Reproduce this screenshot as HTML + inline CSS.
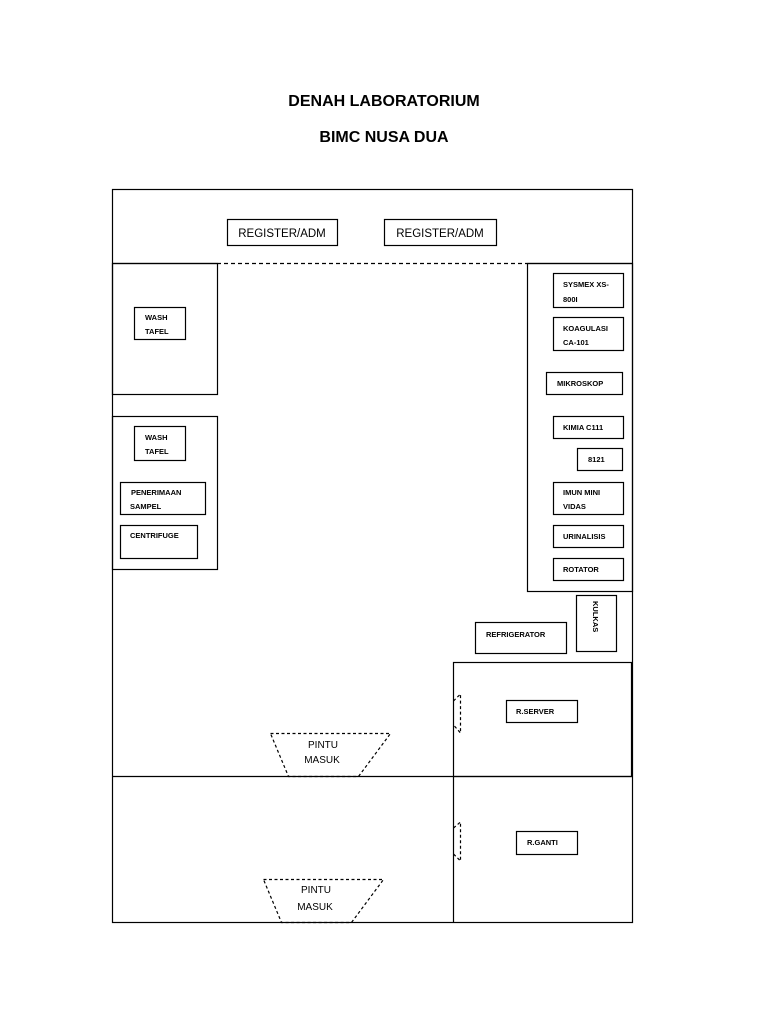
<!DOCTYPE html>
<html><head><meta charset="utf-8"><style>
body{margin:0;background:#fff}
svg{display:block}
text{font-family:"Liberation Sans",sans-serif;fill:#000}
.s{font-size:7.5px;font-weight:bold}
.m{font-size:11.5px}
</style></head><body>
<svg width="768" height="1024" viewBox="0 0 768 1024" xmlns="http://www.w3.org/2000/svg">
<g fill="none" stroke="#000" stroke-width="1.2">
<rect x="112.5" y="189.5" width="520" height="733"/>
<line x1="112" y1="263.5" x2="217" y2="263.5"/>
<line x1="217" y1="263.5" x2="527" y2="263.5" stroke-dasharray="4,3"/>
<line x1="527" y1="263.5" x2="632" y2="263.5"/>
<rect x="112.5" y="263.5" width="105" height="131"/>
<rect x="112.5" y="416.5" width="105" height="153"/>
<rect x="527.5" y="263.5" width="105" height="328"/>
<rect x="453.5" y="662.5" width="178" height="114"/>
<line x1="112" y1="776.5" x2="632" y2="776.5"/>
<line x1="453.5" y1="776" x2="453.5" y2="922"/>
<rect x="227.5" y="219.5" width="110" height="26"/>
<rect x="384.5" y="219.5" width="112" height="26"/>
<rect x="134.5" y="307.5" width="51" height="32"/>
<rect x="134.5" y="426.5" width="51" height="34"/>
<rect x="120.5" y="482.5" width="85" height="32"/>
<rect x="120.5" y="525.5" width="77" height="33"/>
<rect x="553.5" y="273.5" width="70" height="34"/>
<rect x="553.5" y="317.5" width="70" height="33"/>
<rect x="546.5" y="372.5" width="76" height="22"/>
<rect x="553.5" y="416.5" width="70" height="22"/>
<rect x="577.5" y="448.5" width="45" height="22"/>
<rect x="553.5" y="482.5" width="70" height="32"/>
<rect x="553.5" y="525.5" width="70" height="22"/>
<rect x="553.5" y="558.5" width="70" height="22"/>
<rect x="576.5" y="595.5" width="40" height="56"/>
<rect x="475.5" y="622.5" width="91" height="31"/>
<rect x="506.5" y="700.5" width="71" height="22"/>
<rect x="516.5" y="831.5" width="61" height="23"/>
<g stroke-dasharray="3,2.5">
<polygon points="270.5,733.5 390.5,733.5 358.5,776.5 288.5,776.5"/>
<polygon points="263.5,879.5 383.5,879.5 351.5,922.5 281.5,922.5"/>
<polyline points="453.5,701 460.5,694 460.5,733 453.5,725"/>
<polyline points="453.5,828 460.5,822 460.5,861 453.5,854"/>
</g>
</g>
<text x="384" y="106" text-anchor="middle" style="font-size:16px;font-weight:bold">DENAH LABORATORIUM</text>
<text x="384" y="142" text-anchor="middle" style="font-size:16px;font-weight:bold">BIMC NUSA DUA</text>
<text class="m" x="282" y="237" text-anchor="middle">REGISTER/ADM</text>
<text class="m" x="440" y="237" text-anchor="middle">REGISTER/ADM</text>
<text class="s" x="145" y="320">WASH</text><text class="s" x="145" y="334">TAFEL</text>
<text class="s" x="145" y="440">WASH</text><text class="s" x="145" y="454">TAFEL</text>
<text class="s" x="131" y="495">PENERIMAAN</text><text class="s" x="130" y="509">SAMPEL</text>
<text class="s" x="130" y="538">CENTRIFUGE</text>
<text class="s" x="563" y="287">SYSMEX XS-</text><text class="s" x="563" y="302">800I</text>
<text class="s" x="563" y="331">KOAGULASI</text><text class="s" x="563" y="345">CA-101</text>
<text class="s" x="557" y="386">MIKROSKOP</text>
<text class="s" x="563" y="430">KIMIA C111</text>
<text class="s" x="588" y="462">8121</text>
<text class="s" x="563" y="495">IMUN MINI</text><text class="s" x="563" y="509">VIDAS</text>
<text class="s" x="563" y="539">URINALISIS</text>
<text class="s" x="563" y="572">ROTATOR</text>
<text class="s" x="486" y="637">REFRIGERATOR</text>
<text class="s" transform="translate(593,601) rotate(90)">KULKAS</text>
<text class="s" x="516" y="714">R.SERVER</text>
<text class="s" x="527" y="845">R.GANTI</text>
<text class="m" x="323" y="748" text-anchor="middle" style="font-size:10px">PINTU</text>
<text class="m" x="322" y="763" text-anchor="middle" style="font-size:10px">MASUK</text>
<text class="m" x="316" y="893" text-anchor="middle" style="font-size:10px">PINTU</text>
<text class="m" x="315" y="910" text-anchor="middle" style="font-size:10px">MASUK</text>
</svg>
</body></html>
